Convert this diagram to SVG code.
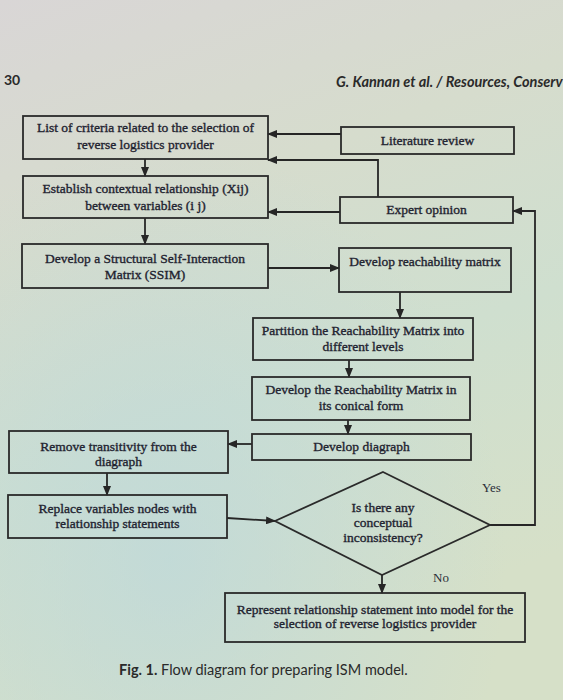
<svg xmlns="http://www.w3.org/2000/svg" width="563" height="700" viewBox="0 0 563 700">
  <defs>
    <linearGradient id="bg" x1="0" y1="0" x2="0.3" y2="1">
      <stop offset="0" stop-color="#d9d6d6"/>
      <stop offset="0.35" stop-color="#d6dccd"/>
      <stop offset="0.65" stop-color="#cfdfcf"/>
      <stop offset="1" stop-color="#d6e0c8"/>
    </linearGradient>
    <radialGradient id="glow" cx="0.3" cy="0.8" r="0.6">
      <stop offset="0" stop-color="#bcd8dc" stop-opacity="0.7"/>
      <stop offset="1" stop-color="#bcd8dc" stop-opacity="0"/>
    </radialGradient>
    <marker id="ah" markerWidth="10" markerHeight="8" refX="9" refY="4" orient="auto" markerUnits="userSpaceOnUse">
      <path d="M0,0 L10,4 L0,8 Z" fill="#262626"/>
    </marker>
  </defs>
  <style>
    .box { fill: none; stroke: #2a2a2a; stroke-width: 1.8; }
    .t { font-size: 13.5px; fill: #1f2330; text-anchor: middle; stroke: #1f2330; stroke-width: 0.35; }
    .lbl { font-size: 13px; fill: #2a2e38; }
    .conn { fill: none; stroke: #262626; stroke-width: 1.8; marker-end: url(#ah); }
  </style>

  <rect width="563" height="700" fill="url(#bg)"/>
  <rect width="563" height="700" fill="url(#glow)"/>

  <g id="header" font-family="Lato, 'Open Sans', sans-serif" fill="#2a2a2a">
    <text x="4" y="85" font-size="14" font-weight="bold">30</text>
    <text x="336" y="87" font-size="14.5" font-weight="bold" font-style="italic">G. Kannan et al. / Resources, Conserv</text>
  </g>

  <g id="connectors">
    <path class="conn" d="M341,134 H268"/>
    <path class="conn" d="M378,197 V160 H268"/>
    <path class="conn" d="M340,212 H268"/>
    <path class="conn" d="M145,159 V176"/>
    <path class="conn" d="M145,218 V244"/>
    <path class="conn" d="M268,268 H339"/>
    <path class="conn" d="M400,292 V318"/>
    <path class="conn" d="M349,360 V377"/>
    <path class="conn" d="M348,420 V434"/>
    <path class="conn" d="M252,444 H228"/>
    <path class="conn" d="M107,473 V495"/>
    <path class="conn" d="M227,518 L275,521"/>
    <path class="conn" d="M382,575 V593"/>
    <path class="conn" d="M490,525 H535 V211 H513"/>
  </g>

  <g font-family="'Liberation Serif', 'DejaVu Serif', serif">
  <g id="n-criteria">
    <rect class="box" x="23" y="116" width="245" height="43"/>
    <text class="t" x="145.5" y="132">List of criteria related to the selection of</text>
    <text class="t" x="145.5" y="149">reverse logistics provider</text>
  </g>

  <g id="n-literature">
    <rect class="box" x="341" y="127" width="173" height="27"/>
    <text class="t" x="427.5" y="145">Literature review</text>
  </g>

  <g id="n-contextual">
    <rect class="box" x="23" y="176" width="245" height="42"/>
    <text class="t" x="145.5" y="193">Establish contextual relationship (Xij)</text>
    <text class="t" x="145.5" y="210">between variables (i j)</text>
  </g>

  <g id="n-expert">
    <rect class="box" x="340" y="197" width="173" height="26"/>
    <text class="t" x="426.5" y="214">Expert opinion</text>
  </g>

  <g id="n-ssim">
    <rect class="box" x="22" y="244" width="246" height="44"/>
    <text class="t" x="145" y="263">Develop a Structural Self-Interaction</text>
    <text class="t" x="145" y="279">Matrix (SSIM)</text>
  </g>

  <g id="n-reachability">
    <rect class="box" x="339" y="248" width="172" height="44"/>
    <text class="t" x="425" y="266">Develop reachability matrix</text>
  </g>

  <g id="n-partition">
    <rect class="box" x="253" y="318" width="220" height="42"/>
    <text class="t" x="363" y="335">Partition the Reachability Matrix into</text>
    <text class="t" x="363" y="351">different levels</text>
  </g>

  <g id="n-conical">
    <rect class="box" x="252" y="377" width="218" height="43"/>
    <text class="t" x="361" y="394">Develop the Reachability Matrix in</text>
    <text class="t" x="361" y="410">its conical form</text>
  </g>

  <g id="n-diagraph">
    <rect class="box" x="252" y="434" width="219" height="26"/>
    <text class="t" x="361.5" y="451">Develop diagraph</text>
  </g>

  <g id="n-transitivity">
    <rect class="box" x="9" y="431" width="219" height="42"/>
    <text class="t" x="118.5" y="451">Remove transitivity from the</text>
    <text class="t" x="118.5" y="466">diagraph</text>
  </g>

  <g id="n-replace">
    <rect class="box" x="8" y="495" width="219" height="43"/>
    <text class="t" x="117.5" y="513">Replace variables nodes with</text>
    <text class="t" x="117.5" y="528">relationship statements</text>
  </g>

  <g id="n-decision">
    <polygon class="box" points="383,472 490,525 382,575 275,521"/>
    <text class="t" x="383" y="512">Is there any</text>
    <text class="t" x="383" y="527">conceptual</text>
    <text class="t" x="383" y="542">inconsistency?</text>
  </g>

  <g id="labels">
    <text class="lbl" x="482" y="492">Yes</text>
    <text class="lbl" x="433" y="582">No</text>
  </g>

  <g id="n-represent">
    <rect class="box" x="225" y="593" width="300" height="49"/>
    <text class="t" x="375" y="614">Represent relationship statement into model for the</text>
    <text class="t" x="375" y="628">selection of reverse logistics provider</text>
  </g>
  </g>

  <g id="caption">
    <text x="119" y="675" font-family="Lato, 'Open Sans', sans-serif" font-size="14.5" fill="#2a2a2a"><tspan font-weight="bold">Fig. 1.</tspan>  Flow diagram for preparing ISM model.</text>
  </g>
</svg>
